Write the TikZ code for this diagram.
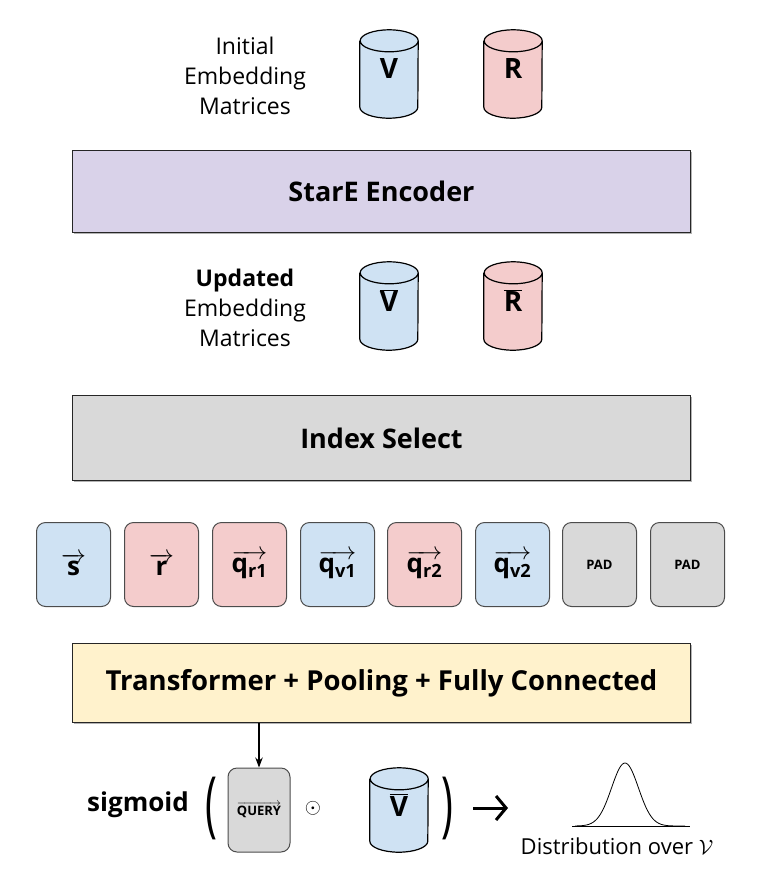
\documentclass[tikz,border=0pt]{standalone}
\usepackage{fontspec}
\setmainfont{Open Sans}
\usetikzlibrary{arrows.meta,shadows}
\newcommand{\mycyl}[6]{% name, x, y, color, label, height
  \node[minimum width=58pt,minimum height=#6pt,inner sep=0pt,font=\bfseries\fontsize{28}{32}\selectfont] (#1) at (#2,#3) {};
  \fill[#4] (#1.north west) -- (#1.south west) arc[start angle=180,end angle=360,x radius=29pt,y radius=11pt] -- (#1.north east) arc[start angle=0,end angle=180,x radius=29pt,y radius=11pt] -- cycle;
  \draw[line width=1.2pt] (#1.north west) -- (#1.south west) arc[start angle=180,end angle=360,x radius=29pt,y radius=11pt] -- (#1.north east) arc[start angle=0,end angle=360,x radius=29pt,y radius=11pt];
  \node[font=\bfseries\fontsize{28}{32}\selectfont] (#1-t) at ([yshift=5pt]#1.center) {#5};
}
\begin{document}
\begin{tikzpicture}[x=1pt,y=-1pt,
  box/.style={draw=black!85,line width=1pt,minimum width=618pt,minimum height=82pt,anchor=north west,font=\bfseries\fontsize{27}{32}\selectfont,drop shadow={shadow xshift=1.5pt,shadow yshift=-1.5pt,opacity=0.6}},
  tok/.style={draw=black!70,line width=1pt,rounded corners=9pt,minimum width=74pt,minimum height=84pt,anchor=north west,font=\bfseries\fontsize{26}{30}\selectfont},
  lbl/.style={align=center,font=\fontsize{23}{30}\selectfont},
  par/.style={font=\fontsize{40}{44}\selectfont,yscale=1.8}]
\definecolor{vb}{HTML}{CFE2F3}\definecolor{rp}{HTML}{F4CCCC}
\definecolor{gr}{HTML}{D9D9D9}\definecolor{pu}{HTML}{D9D2E9}\definecolor{ye}{HTML}{FFF2CC}
\useasboundingbox (0,0) rectangle (763,884);
\node[lbl] (init) at (245,76) {Initial\\Embedding\\Matrices};
\mycyl{V}{389}{74}{vb}{V}{66}
\mycyl{R}{513}{74}{rp}{R}{66}
\node[box,fill=pu] (enc) at (72,150) {StarE Encoder};
\node[lbl] (upd) at (245,308) {\textbf{Updated}\\Embedding\\Matrices};
\mycyl{Vb}{389}{306}{vb}{$\overline{\mbox{V}}$}{66}
\mycyl{Rb}{513}{306}{rp}{$\overline{\mbox{R}}$}{66}
\node[box,fill=gr,minimum height=85pt] (idx) at (72,395) {Index Select};
\node[tok,fill=vb] (s) at (36,522) {$\overrightarrow{\mbox{s}}$};
\node[tok,fill=rp] (r) at (124,522) {$\overrightarrow{\mbox{r}}$};
\node[tok,fill=rp] (qr1) at (212,522) {$\overrightarrow{\mbox{q\textsubscript{r1}}}$};
\node[tok,fill=vb] (qv1) at (300,522) {$\overrightarrow{\mbox{q\textsubscript{v1}}}$};
\node[tok,fill=rp] (qr2) at (387,522) {$\overrightarrow{\mbox{q\textsubscript{r2}}}$};
\node[tok,fill=vb] (qv2) at (475,522) {$\overrightarrow{\mbox{q\textsubscript{v2}}}$};
\node[tok,fill=gr,font=\bfseries\fontsize{13}{15}\selectfont] (p1) at (562,522) {PAD};
\node[tok,fill=gr,font=\bfseries\fontsize{13}{15}\selectfont] (p2) at (650,522) {PAD};
\node[box,fill=ye,minimum height=79pt,font=\bfseries\fontsize{27.5}{32}\selectfont] (tr) at (72,643) {Transformer + Pooling + Fully Connected};
\node[font=\bfseries\fontsize{26}{30}\selectfont] (sig) at (138,805) {sigmoid};
\node[par] (lp) at (211,808) {(};
\node[tok,fill=gr,minimum width=62pt,anchor=center,font=\bfseries\fontsize{13}{15}\selectfont] (q) at (259,810) {$\overrightarrow{\mbox{QUERY}}$};
\node[font=\fontsize{22}{26}\selectfont] (od) at (313,808) {$\odot$};
\mycyl{Vc}{399}{810}{vb}{$\overline{\mbox{V}}$}{62}
\node[par] (rp) at (447,808) {)};
\coordinate (a1) at (473,808); \coordinate (a2) at (508,808);
\draw[line width=3pt,-{Straight Barb[length=10pt,width=24pt,line width=3pt]}] (a1) -- (a2);
\coordinate (g0) at (572,826); \coordinate (g1) at (690,826);
\draw[line width=0.8pt] (g0) -- (g1);
\draw[line width=0.8pt,domain=575:685,samples=80] plot (\x,{826-63*exp(-((\x-625)/19)^2)});
\node[font=\fontsize{22}{26}\selectfont] (dist) at (617,846) {Distribution over $\mathcal{V}$};
\draw[line width=1.2pt,-{Stealth[length=10pt]}] (tr.south west -| q.north) -- (q.north);
\end{tikzpicture}
\end{document}
